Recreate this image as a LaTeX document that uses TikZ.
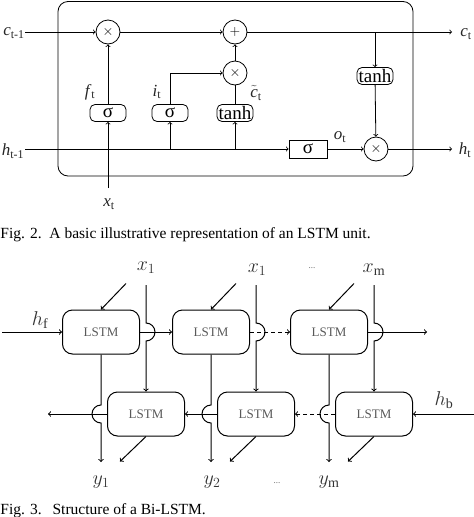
\RequirePackage{fix-cm}
\documentclass[tikz,border=0pt]{standalone}
\usepackage{fontspec}
\setmainfont{Liberation Serif}
\usetikzlibrary{calc}

\begin{document}
\begin{tikzpicture}[x=1pt, y=-1pt, line width=0.8pt, >=to,
    circ/.style={circle, draw, minimum size=24pt, inner sep=0pt, font=\fontsize{14}{14}\selectfont},
    gate/.style={draw, rounded corners=5pt, minimum width=36pt, minimum height=17pt, inner sep=1pt, font=\fontsize{19}{19}\selectfont},
    cell/.style={draw, line width=1pt, rounded corners=10pt, minimum width=77pt, minimum height=44pt, font=\fontsize{13}{14}\selectfont, text=black!65},
    lab/.style={font=\fontsize{17}{18}\selectfont, text=black!85},
    mlab/.style={font=\fontsize{20}{21}\selectfont, text=black!80},
    figcap/.style={anchor=base west, inner sep=0pt, font=\fontsize{15.5}{17}\selectfont}]

    % 画布大小
    \useasboundingbox (0,0) rectangle (474,517);
    \clip (0,0) rectangle (474,517);

    % ===== 图2：LSTM 单元 =====
    \draw[rounded corners=10pt] (58,1.5) rectangle (413,176);

    % 运算节点
    \node[circ] (fx) at (108,32) {$\times$};
    \node[circ] (add) at (235,32) {$+$};
    \node[circ] (ix) at (235,73) {$\times$};
    \node[circ] (ox) at (376,149) {$\times$};

    % 门
    \node[gate] (sf) at (108,113) {σ};
    \node[gate] (si) at (170,113) {σ};
    \node[gate] (tc) at (235,113) {tanh};
    \node[gate, rounded corners=0pt, minimum width=38pt, minimum height=18pt] (so) at (308,149) {σ};
    \node[gate] (tout) at (375,76) {tanh};

    % 标签
    \node[lab] (lc0) at (14,33) {\textit{c}\textsubscript{t-1}};
    \node[lab] (lh0) at (13,151) {\textit{h}\textsubscript{t-1}};
    \node[lab] (lc1) at (466,34) {\textit{c}\textsubscript{t}};
    \node[lab] (lh1) at (465,150) {\textit{h}\textsubscript{t}};
    \node[lab] (lxt) at (109,204) {\textit{x}\textsubscript{t}};
    \node[lab] (lft) at (90,92) {\textit{f}\textsubscript{t}};
    \node[lab] (lit) at (157,92) {\textit{i}\textsubscript{t}};
    \node[lab] (lct) at (256,93) {$\tilde{\mbox{\textit{c}}}$\textsubscript{t}};
    \node[lab] (lot) at (340,137) {\textit{o}\textsubscript{t}};

    % 端点
    \coordinate (cin) at (25,32);
    \coordinate (cout) at (452,32);
    \coordinate (hin) at (25,149);
    \coordinate (hout) at (452,149);
    \coordinate (xin) at (108,188);

    % 细胞状态
    \draw[->] (cin) -- (fx);
    \draw[->] (fx) -- (add);
    \draw[->] (add) -- (cout);
    \draw[->] (add -| tout) -- (tout);
    \draw[->] (tout) -- (ox);

    % 隐状态与输入
    \draw[->] (hin) -- (so);
    \draw[->] (so) -- (ox);
    \draw[->] (ox) -- (hout);
    \draw[->] (hin -| si) -- (si);
    \draw[->] (hin -| tc) -- (tc);
    \draw[->] (xin) -- (sf);

    % 门输出
    \draw[->] (sf) -- (fx);
    \draw[->] (si) |- (ix);
    \draw (tc) -- (ix);
    \draw[->] (ix) -- (add);

    \node[figcap] (cap2) at (0,238) {Fig. 2.\hspace{0.5em}A basic illustrative representation of an LSTM unit.};

    % ===== 图3：Bi-LSTM =====
    \def\rowf{332} % 前向行
    \def\rowb{414} % 后向行
    \begin{scope}[line width=1pt]
    \foreach \i/\xa/\xb in {1/101/146, 2/211/256, 3/329/374} {
        \node[cell] (tf\i) at (\xa,\rowf) {$\mathrm{LSTM}$};
        \node[cell] (bb\i) at (\xb,\rowb) {$\mathrm{LSTM}$};
        \coordinate (xs\i) at (\xb,285);
        \coordinate (ye\i) at (\xa,462);
        \coordinate (xd\i) at ($(tf\i.north)+(25,-26)$);
        \coordinate (yd\i) at ($(bb\i.south)+(-26,25)$);
        % 输入（跨线处画半圆）
        \draw[->] (xs\i) -- ($(xs\i |- tf\i.east)+(0,-9)$) arc[start angle=90, end angle=-90, radius=9pt] -- (bb\i.north);
        \draw[->] (xd\i) -- (tf\i.north);
        % 输出
        \draw[->] (tf\i.south) -- ($(tf\i.south |- bb\i.west)+(0,-9)$) arc[start angle=90, end angle=270, radius=9pt] -- (ye\i);
        \draw[->] (bb\i.south) -- (yd\i);
    }

    \coordinate (hfin) at (2,\rowf);
    \coordinate (hfout) at (427,\rowf);
    \coordinate (hbin) at (474,\rowb);
    \coordinate (hbout) at (48,\rowb);

    \draw[->] (hfin) -- (tf1);
    \draw[->] (tf1) -- (tf2);
    \draw[->, dash pattern=on 4pt off 3pt] (tf2) -- (tf3);
    \draw[->] (tf3) -- (hfout);
    \draw[->] (hbin) -- (bb3);
    \draw[->, dash pattern=on 4pt off 3pt] (bb3) -- (bb2);
    \draw[->] (bb2) -- (bb1);
    \draw[->] (bb1) -- (hbout);
    \end{scope}

    % 标签
    \node[mlab] (lhf) at (40,320) {$h_{\mathrm{f}}$};
    \node[mlab] (lhb) at (444,400) {$h_{\mathrm{b}}$};
    \node[mlab] (lx1) at (146,268) {$x_1$};
    \node[mlab] (lx2) at (257,270) {$x_1$};
    \node[font=\fontsize{9}{9}\selectfont, text=black!60] (ldx) at (312,268) {...};
    \node[mlab] (lxm) at (374,270) {$x_{\mathrm{m}}$};
    \node[mlab] (ly1) at (101,482) {$y_1$};
    \node[mlab] (ly2) at (212,482) {$y_2$};
    \node[font=\fontsize{9}{9}\selectfont, text=black!60] (ldy) at (277,483) {...};
    \node[mlab] (lym) at (329,482) {$y_{\mathrm{m}}$};

    \node[figcap] (cap3) at (0,514) {Fig. 3.\hspace{0.7em}Structure of a Bi-LSTM.};
\end{tikzpicture}
\end{document}
